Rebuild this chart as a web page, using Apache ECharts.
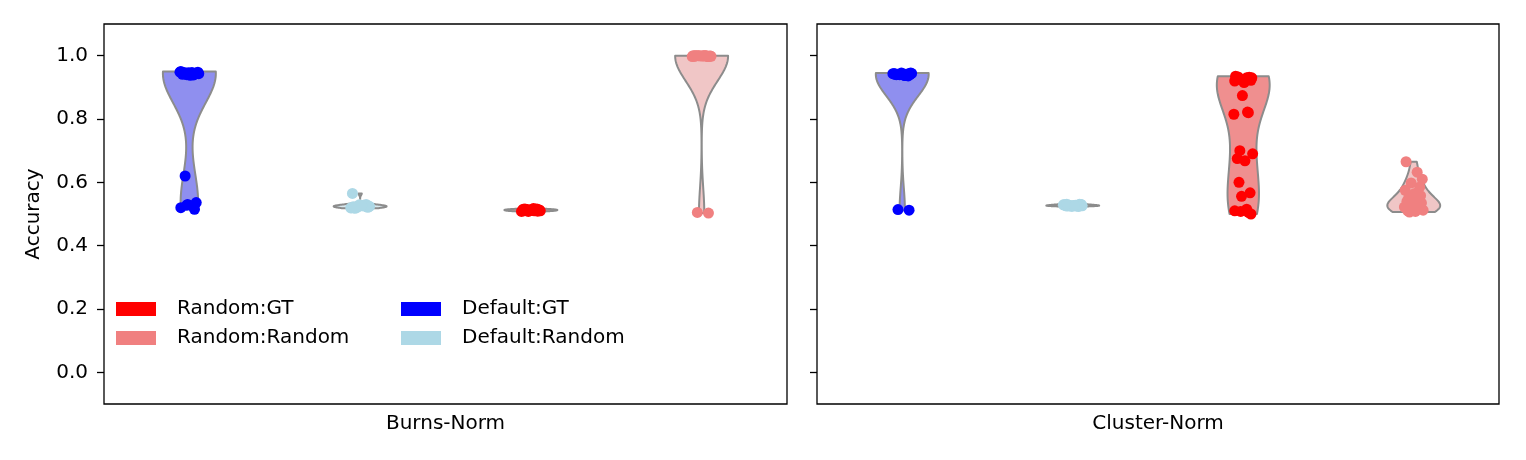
<!DOCTYPE html>
<html><head><meta charset="utf-8">
<script src="https://cdn.jsdelivr.net/npm/echarts@6.0.0/dist/echarts.min.js"></script>
<style>html,body{margin:0;padding:0;background:#fff}#c{width:1526px;height:460px}</style>
</head><body><div id="c"></div>
<script>
// ---------- data ----------
const PANELS = ['Burns-Norm', 'Cluster-Norm'];
const GROUPS = ['Default:GT', 'Default:Random', 'Random:GT', 'Random:Random'];
const TICK_VALUES = [0, 0.2, 0.4, 0.6, 0.8, 1.0];
const TICK_LABELS = ['0.0', '0.2', '0.4', '0.6', '0.8', '1.0'];
const Y_LABEL = 'Accuracy';

// Burns-Norm
const burnsDefaultGT = [0.946, 0.942, 0.948, 0.940, 0.944, 0.950, 0.938, 0.945, 0.943, 0.947, 0.941, 0.944, 0.946, 0.939, 0.948, 0.942,
  0.945, 0.943, 0.947, 0.941, 0.620, 0.536, 0.530, 0.525, 0.520, 0.515, 0.528];
const burnsDefaultRandom = [0.565, 0.528, 0.525, 0.522, 0.530, 0.520, 0.526, 0.524, 0.518, 0.527, 0.523, 0.521, 0.529, 0.525, 0.519,
  0.526, 0.522, 0.524, 0.520, 0.527];
const burnsRandomGT = [0.515, 0.510, 0.513, 0.508, 0.516, 0.511, 0.514, 0.509, 0.512, 0.517, 0.510, 0.513, 0.511, 0.515, 0.508,
  0.512, 0.514, 0.510, 0.516, 0.513];
const burnsRandomRandom = [0.998, 1.000, 0.999, 1.000, 0.997, 1.000, 0.999, 0.998, 1.000, 0.999, 1.000, 0.998, 0.999, 1.000, 0.997,
  0.999, 1.000, 0.998, 0.999, 1.000, 0.505, 0.503];

// Cluster-Norm
const clusterDefaultGT = [0.942, 0.938, 0.945, 0.940, 0.936, 0.943, 0.939, 0.944, 0.941, 0.937, 0.942, 0.940, 0.945, 0.938, 0.943,
  0.939, 0.941, 0.944, 0.940, 0.942, 0.514, 0.512];
const clusterDefaultRandom = [0.528, 0.525, 0.530, 0.526, 0.524, 0.529, 0.527, 0.531, 0.525, 0.528, 0.526, 0.530, 0.524, 0.527,
  0.529, 0.525, 0.528, 0.526, 0.531, 0.527];
const clusterRandomGT = [0.935, 0.930, 0.930, 0.925, 0.932, 0.920, 0.915, 0.928, 0.933, 0.926, 0.931, 0.922, 0.874, 0.822, 0.815,
  0.820, 0.700, 0.690, 0.675, 0.668, 0.600, 0.567, 0.556, 0.515, 0.510, 0.505, 0.508, 0.500];
const clusterRandomRandom = [0.665, 0.632, 0.610, 0.598, 0.585, 0.575, 0.565, 0.558, 0.550, 0.545, 0.540, 0.535, 0.530, 0.527,
  0.522, 0.518, 0.515, 0.512, 0.510, 0.508, 0.506, 0.520];

const PANEL_DATA = [
  [burnsDefaultGT, burnsDefaultRandom, burnsRandomGT, burnsRandomRandom],
  [clusterDefaultGT, clusterDefaultRandom, clusterRandomGT, clusterRandomRandom]
];

// ---------- style / layout ----------
const POINT_COLORS = ['#0000ff', '#add8e6', '#ff0000', '#f08080'];
const VIOLIN_FILLS = ['rgba(32,32,223,0.5)', 'rgba(180,212,223,0.5)', 'rgba(223,32,32,0.5)', 'rgba(226,142,142,0.5)'];
const VIOLIN_EDGE = '#8c8c8c';
const VIOLIN_HALF_WIDTH = 0.155;
const JITTER = [-0.045, 0.02, 0.05, -0.015, 0.035, -0.05, 0.005, 0.04, -0.03, 0.015, -0.04, 0.045, -0.005, 0.025,
  -0.055, 0.03, -0.02, 0.055, -0.035, 0.01, -0.025, 0.04, -0.01, 0.02, -0.05, 0.03, -0.015, 0.045, 0.0, -0.035];
const FONT = 'DejaVu Sans';

function kdeOutline(vals, center) {
  const n = vals.length;
  const mean = vals.reduce((a, b) => a + b, 0) / n;
  const sd = Math.sqrt(vals.reduce((a, b) => a + (b - mean) * (b - mean), 0) / (n - 1));
  const bw = sd * Math.pow(n, -0.2);
  const lo = Math.min(...vals), hi = Math.max(...vals);
  const G = 100, ys = [], ds = [];
  for (let i = 0; i < G; i++) {
    const y = lo + (hi - lo) * i / (G - 1);
    let d = 0;
    for (const v of vals) d += Math.exp(-0.5 * Math.pow((y - v) / bw, 2));
    ys.push(y); ds.push(d);
  }
  const dmax = Math.max(...ds);
  const left = ys.map((y, i) => [center - VIOLIN_HALF_WIDTH * ds[i] / dmax, y]);
  const right = ys.map((y, i) => [center + VIOLIN_HALF_WIDTH * ds[i] / dmax, y]).reverse();
  return left.concat(right);
}

const grids = [
  { left: 104, top: 24, width: 683, height: 380 },
  { left: 817, top: 24, width: 682, height: 380 }
].map(g => Object.assign(g, { show: true, borderColor: '#000', borderWidth: 1.3, backgroundColor: 'transparent' }));

const xAxes = PANELS.map((p, i) => ({
  type: 'value', gridIndex: i, min: -0.5, max: 3.5,
  axisLine: { show: false, onZero: false }, axisTick: { show: false }, axisLabel: { show: false }, splitLine: { show: false },
  name: p, nameLocation: 'middle', nameGap: 10,
  nameTextStyle: { fontSize: 20, fontFamily: FONT, color: '#000' }
}));

const yAxes = PANELS.map((p, i) => ({
  type: 'value', gridIndex: i, min: -0.1, max: 1.1, position: 'left',
  axisLine: { show: false, onZero: false },
  splitLine: { show: false },
  axisTick: { show: true, length: 7, customValues: TICK_VALUES, lineStyle: { color: '#000', width: 1.3 } },
  axisLabel: {
    show: i === 0, margin: 16, customValues: TICK_VALUES, fontSize: 20, fontFamily: FONT, color: '#000',
    formatter: v => TICK_LABELS[TICK_VALUES.findIndex(t => Math.abs(t - v) < 1e-9)]
  },
  name: i === 0 ? Y_LABEL : '', nameLocation: 'middle', nameGap: 60,
  nameTextStyle: { fontSize: 20, fontFamily: FONT, color: '#000' }
}));

const series = [];
PANEL_DATA.forEach((groups, p) => {
  groups.forEach((vals, g) => {
    const outline = kdeOutline(vals, g);
    series.push({
      type: 'custom', xAxisIndex: p, yAxisIndex: p, name: 'violin-' + p + '-' + g,
      data: [[g, vals[0]]], clip: true, silent: true, z: 2,
      renderItem: (params, api) => ({
        type: 'polygon',
        shape: { points: outline.map(pt => api.coord(pt)) },
        style: { fill: VIOLIN_FILLS[g], stroke: VIOLIN_EDGE, lineWidth: 2, lineJoin: 'round' }
      })
    });
  });
  groups.forEach((vals, g) => {
    series.push({
      type: 'scatter', xAxisIndex: p, yAxisIndex: p, name: GROUPS[g],
      data: vals.map((v, i) => [g + JITTER[i % JITTER.length], v]),
      symbol: 'circle', symbolSize: 11, z: 5, silent: true,
      itemStyle: { color: POINT_COLORS[g], opacity: 1 }
    });
  });
});

const legendBase = {
  orient: 'vertical', top: 299, itemWidth: 40, itemHeight: 14, itemGap: 9, icon: 'rect', padding: 0,
  selectedMode: false,
  textStyle: { fontSize: 20, fontFamily: FONT, color: '#000', lineHeight: 15, padding: [0, 0, 0, 16] }
};
const legends = [
  Object.assign({}, legendBase, { left: 116, data: ['Random:GT', 'Random:Random'] }),
  Object.assign({}, legendBase, { left: 401, data: ['Default:GT', 'Default:Random'] })
];

const chart = echarts.init(document.getElementById('c'), null, { renderer: 'canvas' });
chart.setOption({
  animation: false,
  backgroundColor: '#fff',
  textStyle: { fontFamily: FONT },
  grid: grids, xAxis: xAxes, yAxis: yAxes, legend: legends, series: series
});
</script></body></html>
